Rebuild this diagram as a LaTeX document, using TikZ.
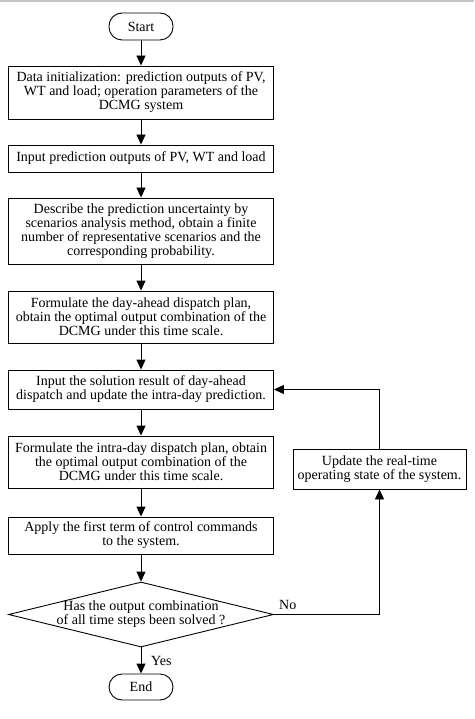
\documentclass[tikz,border=0pt]{standalone}
\usepackage{fontspec}
\setmainfont{Liberation Serif}
\usetikzlibrary{shapes.geometric,arrows.meta}
\begin{document}
\begin{tikzpicture}[x=1pt,y=-1pt,
  every node/.style={font=\fontsize{14}{14}\selectfont, align=center},
  procbox/.style={draw, line width=0.9pt, rectangle, minimum width=265pt, inner sep=0pt},
  termbox/.style={draw, line width=0.9pt, rectangle, rounded corners=13pt, minimum width=64pt, minimum height=27pt, inner sep=0pt},
  decbox/.style={draw, line width=0.9pt, diamond, minimum width=265pt, minimum height=65pt, inner sep=0pt},
  arr/.style={draw, line width=0.9pt, -{Triangle[length=10pt,width=9pt]}},
  lbl/.style={font=\fontsize{14}{14}\selectfont, inner sep=1pt}
]
\useasboundingbox (0,0) rectangle (474,719);
\fill[gray!45] (0,0) rectangle (474,2.5);

\node[termbox] (start) at (141,26.5) {Start};
\node[procbox, minimum height=53pt] (b1) at (141,92.5) {Data initialization: prediction outputs of PV,\\ WT and load; operation parameters of the\\ DCMG system};
\node[procbox, minimum height=27pt] (b2) at (141,158.5) {Input prediction outputs of PV, WT and load};
\node[procbox, minimum height=66pt] (b3) at (141,231) {Describe the prediction uncertainty by\\ scenarios analysis method, obtain a finite\\ number of representative scenarios and the\\ corresponding probability.};
\node[procbox, minimum height=52pt] (b4) at (141,317) {Formulate the day-ahead dispatch plan,\\ obtain the optimal output combination of the\\ DCMG under this time scale.};
\node[procbox, minimum height=39pt] (b5) at (141,389.5) {Input the solution result of day-ahead\\ dispatch and update the intra-day prediction.};
\node[procbox, minimum height=52pt] (b6) at (141,462) {Formulate the intra-day dispatch plan, obtain\\ the optimal output combination of the\\ DCMG under this time scale.};
\node[procbox, minimum width=173pt, minimum height=40pt] (upd) at (379.5,469) {Update the real-time\\ operating state of the system.};
\node[procbox, minimum height=37pt] (b7) at (141,535.5) {Apply the first term of control commands\\ to the system.};
\node[decbox] (dec) at (141,614.5) {};
\node (dectext) at (dec.center) {Has the output combination\\ of all time steps been solved ?};
\node[termbox, minimum height=26pt] (end) at (141,687) {End};

\draw[arr] (start) -- (b1);
\draw[arr] (b1) -- (b2);
\draw[arr] (b2) -- (b3);
\draw[arr] (b3) -- (b4);
\draw[arr] (b4) -- (b5);
\draw[arr] (b5) -- (b6);
\draw[arr] (b6) -- (b7);
\draw[arr] (b7) -- (dec.north);
\draw[arr] (dec.south) -- (end);
\draw[arr] (dec.east) -| (upd.south);
\draw[arr] (upd.north) |- (b5.east);

\node[lbl, anchor=south west] (no) at ([xshift=4pt,yshift=4pt]dec.east) {No};
\node[lbl, anchor=west] (yes) at ([xshift=9pt,yshift=-14pt]dec.south) {Yes};
\end{tikzpicture}
\end{document}
